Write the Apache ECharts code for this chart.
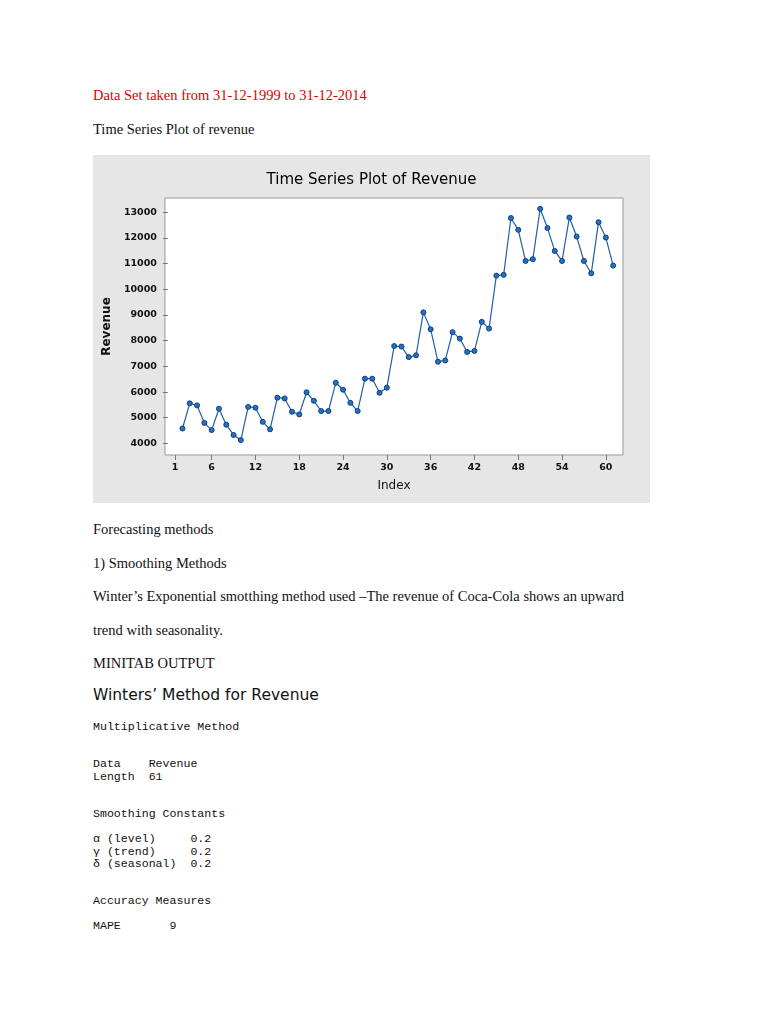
<!DOCTYPE html>
<html><head><meta charset="utf-8">
<script src="https://cdn.jsdelivr.net/npm/echarts@6/dist/echarts.min.js"></script>
<style>
body{margin:0;width:768px;height:1024px;background:#fff;position:relative;font-family:"Liberation Serif",serif;}
.t{position:absolute;left:93px;font-size:14.5px;color:#111;white-space:pre;}
.m{position:absolute;left:93px;font-family:"Liberation Mono",monospace;font-size:11.6px;line-height:12.5px;color:#111;white-space:pre;}
#c{position:absolute;left:93px;top:155px;width:557px;height:348px;}
</style></head><body>
<div class="t" style="top:87px;color:#e00000">Data Set taken from 31-12-1999 to 31-12-2014</div>
<div class="t" style="top:121px">Time Series Plot of revenue</div>
<div id="c"></div>
<div class="t" style="top:521px">Forecasting methods</div>
<div class="t" style="top:555px">1) Smoothing Methods</div>
<div class="t" style="top:588px">Winter’s Exponential smotthing method used –The revenue of Coca-Cola shows an upward</div>
<div class="t" style="top:622px">trend with seasonality.</div>
<div class="t" style="top:655px">MINITAB OUTPUT</div>
<div class="t" style="top:686px;font-family:'DejaVu Sans',sans-serif;font-size:15.5px">Winters’ Method for Revenue</div>
<div class="m" style="top:721px">Multiplicative Method</div>
<div class="m" style="top:758px">Data    Revenue
Length  61</div>
<div class="m" style="top:808px">Smoothing Constants</div>
<div class="m" style="top:833px">α (level)     0.2
γ (trend)     0.2
δ (seasonal)  0.2</div>
<div class="m" style="top:895px">Accuracy Measures</div>
<div class="m" style="top:920px">MAPE       9</div>
<script>
const indexes = [2,3,4,5,6,7,8,9,10,11,12,13,14,15,16,17,18,19,20,21,22,23,24,25,26,27,28,29,30,31,32,33,34,35,36,37,38,39,40,41,42,43,44,45,46,47,48,49,50,51,52,53,54,55,56,57,58,59,60,61];
const revenue = [4580,5560,5480,4800,4520,5350,4730,4330,4130,5420,5390,4840,4550,5780,5750,5230,5130,5990,5660,5260,5260,6360,6090,5580,5260,6520,6520,5970,6170,7790,7770,7360,7430,9100,8440,7180,7230,8330,8080,7560,7600,8730,8470,10530,10560,12770,12310,11100,11170,13130,12380,11490,11100,12790,12050,11100,10620,12610,12010,10920];
const xTicks = [1,6,12,18,24,30,36,42,48,54,60];
const yTicks = [4000,5000,6000,7000,8000,9000,10000,11000,12000,13000];
const ch = echarts.init(document.getElementById('c'));
const lbl = {fontFamily:'DejaVu Sans',fontSize:9.5,color:'#111',fontWeight:'bold'};
ch.setOption({
  backgroundColor:'#e6e6e6',
  title:{text:'Time Series Plot of Revenue',left:'center',top:13,textStyle:{fontFamily:'DejaVu Sans',fontSize:15,fontWeight:500,color:'#000'}},
  grid:{left:70,right:27,top:43,bottom:48,show:true,backgroundColor:'#fff',borderColor:'#999'},
  xAxis:{type:'value',min:-0.4,max:62.35,name:'Index',nameLocation:'middle',nameGap:25,
    nameTextStyle:{fontFamily:'DejaVu Sans',fontSize:12,color:'#111'},
    axisLine:{show:false},splitLine:{show:false},
    axisTick:{show:true,customValues:xTicks,lineStyle:{color:'#777'}},
    axisLabel:Object.assign({customValues:xTicks},lbl)},
  yAxis:{type:'value',min:3550,max:13550,name:'Revenue',nameLocation:'middle',nameGap:45,
    nameTextStyle:{fontFamily:'DejaVu Sans',fontSize:12,color:'#111',fontWeight:'bold'},
    axisLine:{show:false},splitLine:{show:false},
    axisTick:{show:true,customValues:yTicks,lineStyle:{color:'#777'}},
    axisLabel:Object.assign({customValues:yTicks,formatter:v=>String(v)},lbl)},
  series:[{type:'line',data:indexes.map((x,i)=>[x,revenue[i]]),symbol:'circle',symbolSize:5,
    lineStyle:{color:'#1f5fa8',width:1.2},itemStyle:{color:'#2a6fc0',borderColor:'#0d3f80',borderWidth:1}}]
});
</script></body></html>
